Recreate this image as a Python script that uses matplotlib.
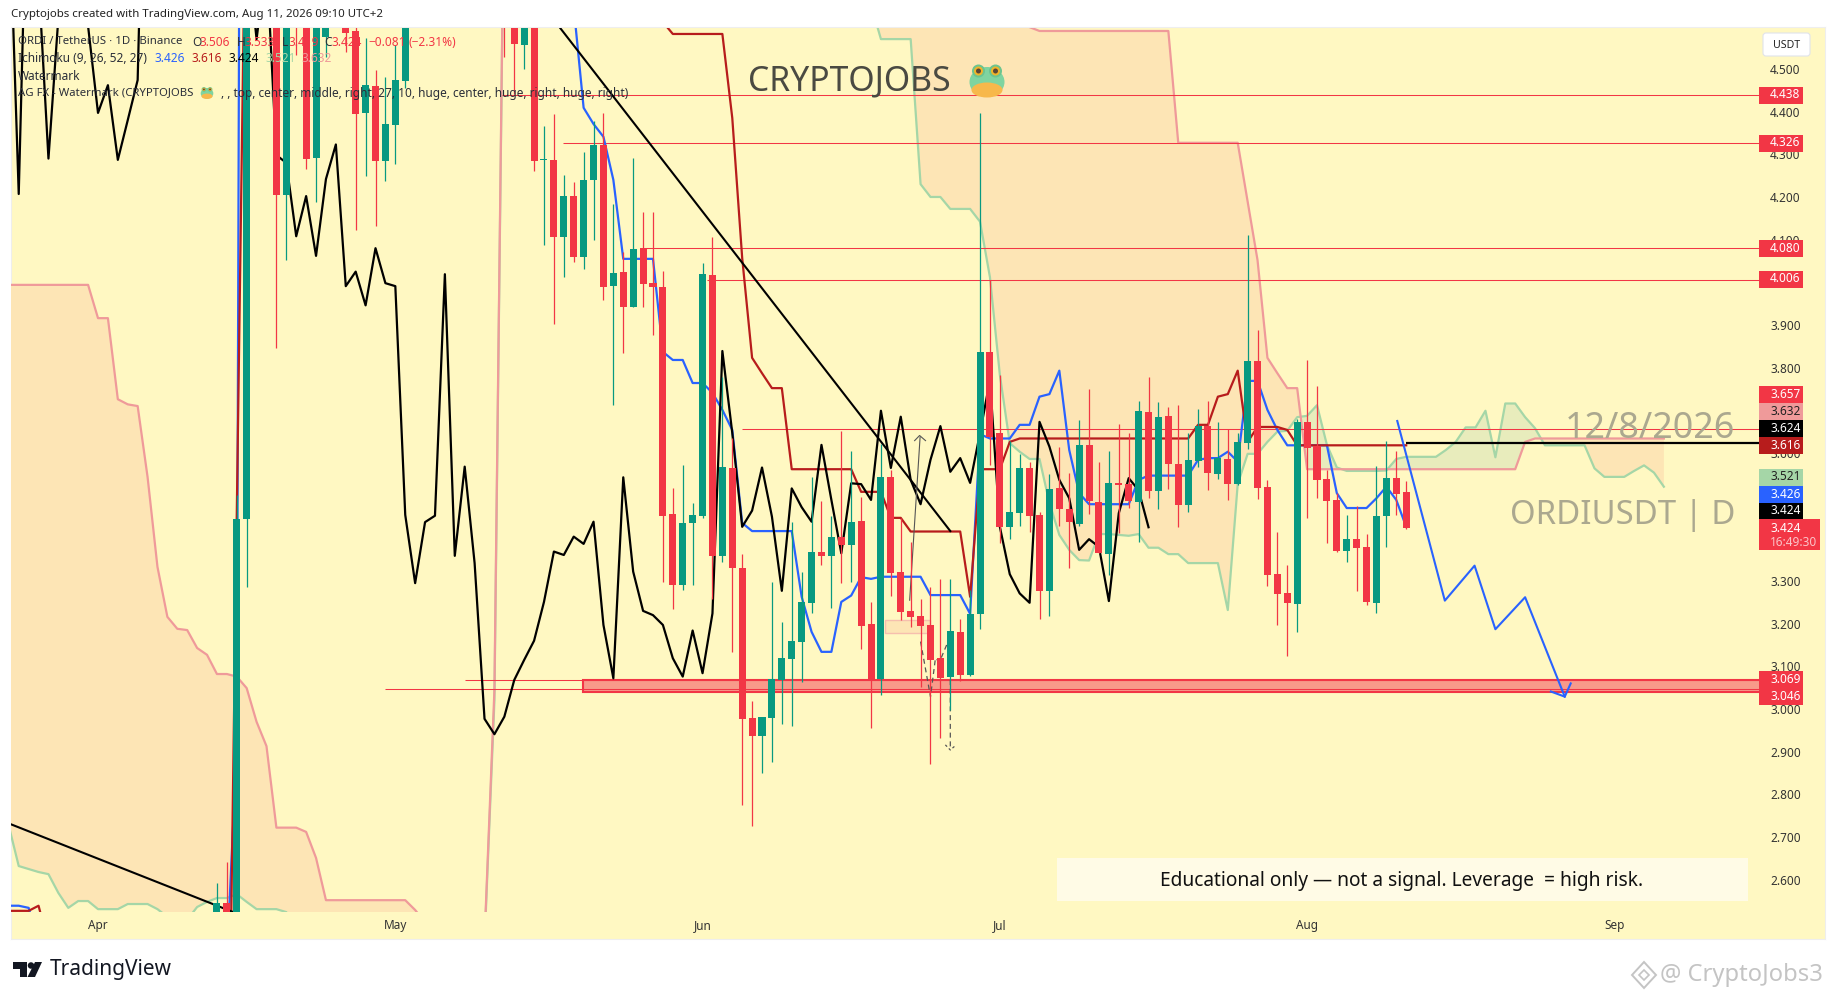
import matplotlib
matplotlib.use('Agg')
import matplotlib.pyplot as plt
from matplotlib.patches import Rectangle, Ellipse, FancyBboxPatch, Polygon
import numpy as np

plt.rcParams['font.family'] = ['Noto Sans', 'DejaVu Sans']

W, H = 1835, 1000
BG = '#FFF8C2'
UP = '#089981'
DOWN = '#F23645'

# day number counted from 1 April
month_days = [0, 30, 61, 91, 122, 153]
month_labels = ['Apr', 'May', 'Jun', 'Jul', 'Aug', 'Sep']
price_ticks = [2.6, 2.7, 2.8, 2.9, 3.0, 3.1, 3.2, 3.3, 3.4, 3.5, 3.6, 3.7, 3.8, 3.9, 4.0, 4.1, 4.2, 4.3, 4.4, 4.5]

candle_days = [12, 13, 14, 15, 18, 19, 20, 21, 22, 23, 25, 26, 27, 28, 29, 30, 31,
               41, 42, 43, 44, 45, 46, 47, 48, 49, 50, 51, 52, 53, 54, 55, 56, 57, 58, 59,
               60, 61, 62, 63, 64, 65, 66, 67, 68, 69, 70, 71, 72, 73, 74, 75, 76, 77, 78, 79,
               80, 81, 82, 83, 84, 85, 86, 87, 88, 89, 90, 91, 92, 93, 94, 95, 96, 97, 98, 99,
               100, 101, 102, 103, 104, 105, 106, 107, 108, 109, 110, 111, 112, 113, 114, 115,
               116, 117, 118, 119, 120, 121, 122, 123, 124, 125, 126, 127, 128, 129, 130, 131, 132]
opens = [2.45, 2.546, 2.40, 3.445, 4.75, 4.205, 4.75, 4.72, 4.292, 4.576, 4.68, 4.589, 4.397, 4.460, 4.285, 4.369, 4.472,
         4.75, 4.70, 4.556, 4.70, 4.286, 4.287, 4.107, 4.202, 4.060, 4.240, 4.322, 3.991, 4.024, 3.943, 4.080, 3.999, 3.989, 3.457, 3.291,
         3.437, 3.452, 4.017, 3.359, 3.565, 3.330, 2.979, 2.937, 2.980, 3.069, 3.117, 3.158, 3.249, 3.368, 3.359, 3.403, 3.384, 3.441, 3.199, 3.070,
         3.544, 3.320, 3.230, 3.218, 3.197, 3.120, 3.075, 3.180, 3.080, 3.223, 3.837, 3.646, 3.427, 3.459, 3.565, 3.455, 3.277, 3.518, 3.469, 3.434,
         3.619, 3.485, 3.363, 3.529, 3.527, 3.485, 3.696, 3.511, 3.687, 3.574, 3.478, 3.581, 3.663, 3.551, 3.586, 3.527,
         3.623, 3.816, 3.520, 3.316, 3.272, 3.246, 3.673, 3.616, 3.539, 3.490, 3.370, 3.398, 3.380, 3.248, 3.452, 3.541, 3.509]
highs = [2.592, 2.642, 3.502, 4.8, 4.8, 4.8, 4.8, 4.8, 4.75, 4.75, 4.75, 4.70, 4.573, 4.498, 4.481, 4.556, 4.8,
         4.8, 4.8, 4.8, 4.8, 4.366, 4.394, 4.251, 4.236, 4.306, 4.379, 4.396, 4.184, 4.072, 4.291, 4.165, 4.165, 4.026, 3.518, 3.572,
         3.483, 4.045, 4.106, 3.779, 3.635, 3.363, 3.019, 2.981, 3.297, 3.204, 3.438, 3.320, 3.544, 3.487, 3.452, 3.652, 3.605, 3.496, 3.251, 3.62,
         3.560, 3.447, 3.392, 3.258, 3.285, 3.305, 3.305, 3.211, 3.279, 4.397, 4.005, 3.783, 3.628, 3.597, 3.579, 3.462, 3.551, 3.614, 3.553, 3.677,
         3.750, 3.579, 3.605, 3.668, 3.647, 3.722, 3.778, 3.719, 3.708, 3.712, 3.647, 3.703, 3.722, 3.673, 3.656, 3.647,
         4.111, 3.888, 3.537, 3.415, 3.337, 3.680, 3.818, 3.757, 3.560, 3.506, 3.455, 3.476, 3.410, 3.569, 3.628, 3.605, 3.534]
lows = [2.40, 2.40, 2.30, 3.287, 3.847, 4.052, 4.533, 4.266, 4.189, 4.528, 4.540, 4.123, 4.250, 4.133, 4.238, 4.277, 4.455,
        4.529, 4.441, 4.500, 4.262, 4.087, 3.902, 4.013, 4.048, 4.032, 4.099, 3.959, 3.712, 3.835, 3.943, 3.943, 3.877, 3.297, 3.234, 3.279,
        3.291, 3.448, 3.258, 3.345, 3.134, 2.775, 2.726, 2.851, 2.876, 2.965, 2.961, 3.064, 3.226, 3.337, 3.237, 3.296, 3.298, 3.141, 2.956, 3.033,
        3.265, 3.209, 3.192, 3.052, 2.871, 2.933, 2.998, 3.066, 3.077, 3.187, 3.572, 3.390, 3.398, 3.430, 3.416, 3.211, 3.219, 3.430, 3.330, 3.430,
        3.458, 3.366, 3.314, 3.413, 3.472, 3.391, 3.495, 3.469, 3.516, 3.427, 3.462, 3.568, 3.513, 3.539, 3.490, 3.525,
        3.609, 3.492, 3.288, 3.197, 3.124, 3.180, 3.448, 3.495, 3.389, 3.368, 3.345, 3.277, 3.244, 3.225, 3.380, 3.455, 3.422]
closes = [2.546, 2.45, 3.445, 4.75, 4.205, 4.75, 4.68, 4.289, 4.70, 4.70, 4.584, 4.395, 4.462, 4.285, 4.370, 4.474, 4.75,
          4.65, 4.558, 4.70, 4.285, 4.287, 4.107, 4.202, 4.060, 4.240, 4.322, 3.990, 4.023, 3.943, 4.078, 3.996, 3.990, 3.452, 3.291, 3.436,
          3.455, 4.019, 3.359, 3.567, 3.331, 2.977, 2.937, 2.981, 3.070, 3.120, 3.159, 3.251, 3.368, 3.359, 3.403, 3.384, 3.438, 3.195, 3.070, 3.544,
          3.319, 3.227, 3.216, 3.195, 3.115, 3.072, 3.183, 3.080, 3.223, 3.837, 3.637, 3.427, 3.462, 3.565, 3.452, 3.277, 3.516, 3.469, 3.438, 3.619,
          3.487, 3.366, 3.530, 3.525, 3.487, 3.698, 3.511, 3.684, 3.574, 3.478, 3.584, 3.663, 3.553, 3.588, 3.527, 3.626,
          3.816, 3.518, 3.314, 3.270, 3.248, 3.673, 3.612, 3.537, 3.487, 3.370, 3.398, 3.377, 3.251, 3.452, 3.541, 3.504, 3.424]

# ichimoku, all start on day -9
span_a = ([2.726, 2.632, 2.625, 2.618, 2.613, 2.569, 2.534, 2.550, 2.550,
           2.531, 2.531, 2.531, 2.543, 2.543, 2.543, 2.531, 2.513, 2.506, 2.506,
           2.536, 2.548, 2.557, 2.557, 2.566, 2.548, 2.531, 2.531, 2.531, 2.524]
          + [2.45] * 19 + [2.45, 3.02, 5.0] + [4.9] * 36 + [4.65, 4.57, 4.57, 4.57, 4.57]
          + [4.230, 4.200, 4.200, 4.172, 4.172, 4.172, 4.142, 4.012, 3.783,
             3.623, 3.603, 3.586, 3.586, 3.483, 3.408, 3.373, 3.349, 3.348,
             3.410, 3.410, 3.408, 3.406, 3.410, 3.378, 3.378, 3.363, 3.363, 3.342,
             3.342, 3.342, 3.342, 3.232, 3.527, 3.598, 3.598, 3.626, 3.650, 3.652,
             3.684, 3.687, 3.712, 3.619, 3.566, 3.558, 3.558, 3.558, 3.558, 3.559,
             3.586, 3.591, 3.591, 3.591, 3.591, 3.607, 3.626, 3.660, 3.660, 3.699,
             3.590, 3.716, 3.716, 3.684, 3.658, 3.618, 3.618, 3.618, 3.618, 3.618,
             3.564, 3.544, 3.544, 3.544, 3.558, 3.571, 3.554, 3.521])
span_b = ([3.994] * 9
          + [3.916, 3.916, 3.726, 3.714, 3.710, 3.544, 3.333, 3.216, 3.188, 3.185,
             3.143, 3.127, 3.082, 3.082, 3.076, 3.049, 2.970, 2.913, 2.722, 2.722,
             2.722, 2.712, 2.651, 2.552]
          + [2.552] * 8 + [2.529, 2.50] + [2.45] * 5 + [2.459, 3.045, 5.013] + [4.7] * 52 + [4.598]
          + [4.589] * 14 + [4.327] * 7 + [4.189, 4.052, 3.823, 3.787, 3.752, 3.752]
          + [3.562] * 22 + [3.626] + [3.634] * 14)
base_line = ([2.527, 2.527, 2.527, 2.539, 2.45] + [1.8] * 17 + [1.76, 3.455, 5.12] + [4.9] * 41
             + [4.610] + [4.582] * 6 + [4.385, 4.057, 3.823, 3.787, 3.752, 3.752]
             + [3.562] * 7 + [3.509] * 3 + [3.448] * 2 + [3.416] * 6 + [3.263, 3.562, 3.562, 3.562, 3.626]
             + [3.634] * 18 + [3.666, 3.666, 3.732, 3.738, 3.793, 3.626, 3.661, 3.661, 3.661, 3.654]
             + [3.618] * 12)
conv_line = ([2.539, 2.539, 2.534, 2.45] + [2.0] * 18 + [2.409, 2.913, 10.2] + [4.9] * 32
             + [4.645, 4.409, 4.371, 4.341, 4.240, 4.055, 4.055, 4.055, 4.055]
             + [3.837, 3.818, 3.818, 3.764, 3.764, 3.741, 3.701, 3.654, 3.436] + [3.417] * 5
             + [3.263, 3.181, 3.134, 3.134, 3.251, 3.266, 3.309, 3.305, 3.310] + [3.310] * 4 + [3.267] * 4
             + [3.223, 3.644, 3.634, 3.634, 3.634, 3.666, 3.666, 3.732, 3.738, 3.793, 3.607, 3.506]
             + [3.480] * 5 + [3.537] + [3.547] * 5
             + [3.584, 3.588, 3.588, 3.603, 3.580, 3.769, 3.769, 3.701, 3.654] + [3.618] * 5
             + [3.506, 3.471, 3.471, 3.471, 3.494, 3.521, 3.490, 3.427])
lagging = ([4.92, 4.207, 5.11, 4.71, 4.290, 4.62, 4.7, 4.7, 4.6, 4.397, 4.462, 4.287, 4.380, 4.474, 5.4]
           + [4.9] * 9 + [4.79, 4.570, 4.755, 4.298, 4.280]
           + [4.108, 4.202, 4.062, 4.242, 4.323, 3.991, 4.025, 3.946, 4.080, 3.998,
              3.991, 3.455, 3.295, 3.438, 3.453, 4.019, 3.359, 3.568, 3.342, 2.977,
              2.941, 2.982, 3.068, 3.115, 3.160, 3.251, 3.369, 3.361, 3.404, 3.387,
              3.439, 3.197, 3.072, 3.543, 3.322, 3.230, 3.220, 3.197, 3.119, 3.076,
              3.184, 3.084, 3.224, 3.839, 3.647, 3.427, 3.465, 3.566, 3.451, 3.277,
              3.517, 3.473, 3.439, 3.619, 3.490, 3.365, 3.529, 3.527, 3.490, 3.699,
              3.565, 3.685, 3.537, 3.480, 3.584, 3.663, 3.556, 3.588, 3.530, 3.647,
              3.771, 3.427, 3.316, 3.271, 3.249, 3.673, 3.615, 3.537, 3.494, 3.373,
              3.398, 3.380, 3.253, 3.459, 3.541, 3.513, 3.426])

# drawings
level_prices = [4.438, 4.326, 4.080, 4.006, 3.657, 3.069, 3.046]
level_starts = [40.8, 46.9, 55.2, 61.4, 65.0, 37.0, 29.0]
trend1_days, trend1_prices = [-8.8, 13.65], [2.730, 2.524]
trend2_days, trend2_prices = [46.6, 86.0], [4.597, 3.417]
path_days = [131.1, 135.9, 138.9, 141.0, 144.0, 148.0]
path_prices = [3.675, 3.254, 3.336, 3.187, 3.262, 3.029]
path_head_days = [146.6, 148.0, 148.6]
path_head_prices = [3.041, 3.029, 3.060]
up_days, up_prices = [81.9, 82.95], [3.255, 3.637]
up_head_days, up_head_prices = [82.4, 82.9, 83.5], [3.629, 3.641, 3.629]
dash_days = [83, 84, 84.5, 84.9, 85.7, 86, 86]
dash_prices = [3.158, 3.029, 3.119, 3.110, 3.154, 3.076, 2.909]
dash_head_days, dash_head_prices = [85.5, 86, 86.6], [2.916, 2.904, 2.916]

# (text, centre y, box colour, text colour)
price_tags = [('4.438', 95, DOWN, 'white'), ('4.326', 143, DOWN, 'white'), ('4.080', 248, DOWN, 'white'),
              ('4.006', 279, DOWN, 'white'), ('3.657', 394.5, DOWN, 'white'), ('3.632', 411.5, '#EF9A9A', '#222222'),
              ('3.624', 428.5, '#000000', 'white'), ('3.616', 445.5, '#B71C1C', 'white'),
              ('3.521', 477, '#A5D6A7', '#222222'), ('3.426', 494, '#2962FF', 'white'), ('3.424', 511, '#000000', 'white'),
              ('3.069', 679.5, DOWN, 'white'), ('3.046', 696.5, DOWN, 'white')]


def px_rect(left, right, top, bottom):
    return [left / W, 1 - bottom / H, (right - left) / W, (bottom - top) / H]


def frog(ov, cx, cy, s):
    ov.add_patch(Ellipse((cx, cy + 1 * s), 35 * s, 30 * s, fc='#7FD4A0', ec='none', zorder=5))
    ov.add_patch(Ellipse((cx, cy + 9 * s), 31 * s, 15 * s, fc='#F7B84B', ec='none', zorder=6))
    for dx in [-8.5, 8.5]:
        ov.add_patch(Ellipse((cx + dx * s, cy - 10 * s), 13 * s, 13 * s, fc='#6CC48F', ec='none', zorder=6))
        ov.add_patch(Ellipse((cx + dx * s, cy - 10 * s), 9 * s, 9 * s, fc='#F0B429', ec='none', zorder=7))
        ov.add_patch(Ellipse((cx + dx * s, cy - 10 * s), 5 * s, 5 * s, fc='#5A4636', ec='none', zorder=8))


fig = plt.figure(figsize=(W / 100, H / 100), dpi=100, facecolor='white')

panel = fig.add_axes(px_rect(10.7, 1825, 27, 939), zorder=0)
panel.set_facecolor(BG)
panel.set_xticks([])
panel.set_yticks([])
for sp in panel.spines.values():
    sp.set_color('#EEEEEE')

ax = fig.add_axes(px_rect(10.7, 1759, 28, 911.7), zorder=1)
ax.patch.set_alpha(0)
ax.set_xlim(-8.81, 167.6)
ax.set_ylim(2.525, 4.596)
for sp in ax.spines.values():
    sp.set_visible(False)

# cloud
cloud_x = np.arange(-9, 159)
a = np.array(span_a)
b = np.array(span_b)
ax.fill_between(cloud_x, a, b, where=b >= a, interpolate=True, color='#FDE5B5', lw=0, zorder=1)
ax.fill_between(cloud_x, a, b, where=a >= b, interpolate=True, color='#E8ECBC', lw=0, zorder=1)
ax.plot(cloud_x, a, color='#A5D6A7', lw=1.6, zorder=2)
ax.plot(cloud_x, b, color='#EF9A9A', lw=1.6, zorder=2)

# support band and levels
ax.add_patch(Rectangle((48.9, 3.0405), 130, 0.0285, fc='#F89A8A', ec=DOWN, lw=1.5, zorder=2.5))
ax.hlines(level_prices, level_starts, 170, color=DOWN, lw=0.75, zorder=2.6)
ax.hlines(3.624, 132, 170, color='black', lw=1.6, zorder=3)
ax.add_patch(Rectangle((79.4, 3.178), 4.6, 0.031, fc='#FDE5B5', ec='#F6BFAE', lw=1, zorder=2.4))

# ichimoku lines
ax.plot(np.arange(-9, 133), conv_line, color='#2962FF', lw=1.6, zorder=3)
ax.plot(np.arange(-9, 133), base_line, color='#B71C1C', lw=1.6, zorder=3)
ax.plot(np.arange(-9, 107), lagging, color='black', lw=1.6, zorder=3)

# drawings
ax.plot(trend1_days, trend1_prices, color='black', lw=1.5, zorder=3.1)
ax.plot(trend2_days, trend2_prices, color='black', lw=1.5, zorder=3.1)
ax.plot(path_days, path_prices, color='#2962FF', lw=1.5, zorder=3.1)
ax.plot(path_head_days, path_head_prices, color='#2962FF', lw=1.5, zorder=3.1)
ax.plot(up_days, up_prices, color='#555555', lw=0.8, zorder=3.1)
ax.plot(up_head_days, up_head_prices, color='#555555', lw=0.8, zorder=3.1)
ax.plot(dash_days, dash_prices, color='#555555', lw=0.9, ls=(0, (4, 3)), zorder=3.1)
ax.plot(dash_head_days, dash_head_prices, color='#555555', lw=0.9, ls=(0, (2, 2)), zorder=3.1)

# candles
o = np.array(opens)
c = np.array(closes)
colors = np.where(c >= o, UP, DOWN)
ax.vlines(candle_days, lows, highs, colors=colors, lw=0.9, zorder=4)
ax.bar(candle_days, np.maximum(np.abs(c - o), 0.004), bottom=np.minimum(o, c), width=0.71,
       color=colors, lw=0, zorder=4.1)

ax.yaxis.tick_right()
ax.set_yticks(price_ticks, [f'{p:.3f}' for p in price_ticks], fontsize=8.5, color='#333333', va='center_baseline')
ax.set_xticks(month_days, month_labels, fontsize=8.5, color='#333333')
ax.tick_params(axis='y', length=0, pad=8)
ax.tick_params(axis='x', length=0, pad=5)

# overlay in picture pixels for texts and tags
ov = fig.add_axes([0, 0, 1, 1], zorder=2)
ov.set_xlim(0, W)
ov.set_ylim(H, 0)
ov.axis('off')

ov.text(11, 15, 'Cryptojobs created with TradingView.com, Aug 11, 2026 09:10 UTC+2', fontsize=8.25,
        color='#222222', va='center')

LEG = '#2A2E39'
LEG_SIZE = 8.55
ov.text(18, 42, 'ORDI / TetherUS · 1D · Binance', fontsize=8.2, color=LEG, va='center')
for x, t, col in [(192, 'O', LEG), (199.5, '3.506', DOWN), (236.6, 'H', LEG), (244, '3.533', DOWN), (282, 'L', LEG),
                  (288, '3.419', DOWN), (324.5, 'C', LEG), (331, '3.424', DOWN), (368, '−0.081', DOWN),
                  (408, '(−2.31%)', DOWN)]:
    ov.text(x, 42, t, fontsize=LEG_SIZE, color=col, va='center')
ov.text(18, 59, 'Ichimoku (9, 26, 52, 27)', fontsize=LEG_SIZE, color=LEG, va='center')
for x, t, col in [(154, '3.426', '#2962FF'), (191, '3.616', '#B71C1C'), (228, '3.424', 'black'),
                  (265, '3.521', '#A5D6A7'), (301, '3.632', '#EF9A9A')]:
    ov.text(x, 59, t, fontsize=LEG_SIZE, color=col, va='center')
ov.text(18, 76, 'Watermark', fontsize=LEG_SIZE, color=LEG, va='center')
ov.text(18, 93, 'AG FX - Watermark (CRYPTOJOBS', fontsize=8.15, color=LEG, va='center')
frog(ov, 207, 93, 0.36)
ov.text(221, 93, ', , top, center, middle, right, 27, 10, huge, center, huge, right, huge, right)', fontsize=LEG_SIZE,
        color=LEG, va='center')

# watermarks
ov.text(748, 81, 'CRYPTOJOBS', fontsize=24.3, color='#4A4A42', va='center')
frog(ov, 987, 81, 1)
ov.text(1735, 429, '12/8/2026', fontsize=25.8, color='#ABA88F', va='center', ha='right')
ov.text(1735, 515, 'ORDIUSDT | D', fontsize=23.7, color='#ABA88F', va='center', ha='right')

# note box
ov.add_patch(Rectangle((1057, 858), 691, 43, fc='#FFFBE6', ec='none', zorder=1))
ov.text(1402, 881, 'Educational only — not a signal. Leverage  = high risk.', fontsize=13.8, color='#111111',
        ha='center', va='center', zorder=2)

# price tags
for text, y, box, col in price_tags:
    ov.add_patch(Rectangle((1759, y - 8.5), 44, 17, fc=box, ec='none', zorder=9))
    ov.text(1770, y, text, fontsize=8.5, color=col, va='center', zorder=10)
ov.add_patch(Rectangle((1759, 519), 61, 31, fc=DOWN, ec='none', zorder=9))
ov.text(1770, 528, '3.424', fontsize=8.5, color='white', va='center', zorder=10)
ov.text(1770, 542, '16:49:30', fontsize=8.5, color='#FBC4C8', va='center', zorder=10)

# currency button
ov.add_patch(FancyBboxPatch((1763, 33), 47, 23, boxstyle='round,pad=0,rounding_size=3', fc='white',
                            ec='#E0E3EB', lw=0.8, zorder=9))
ov.text(1786.5, 45, 'USDT', fontsize=7.6, color='#222222', ha='center', va='center', zorder=10)

# footer logo
ov.add_patch(Polygon([(13, 962), (27, 962), (27, 977), (20, 977), (20, 969), (13, 969)], fc='#131722', ec='none'))
ov.add_patch(Ellipse((31, 965.5), 6.5, 6.5, fc='#131722', ec='none'))
ov.add_patch(Polygon([(35, 962), (42, 962), (35, 977), (27.5, 977)], fc='#131722', ec='none'))
ov.text(50, 969.5, 'TradingView', fontsize=15, fontweight='bold', color='#131722', va='center')

# footer watermark
ov.add_patch(Polygon([(1644, 962), (1656, 975), (1644, 988), (1632, 975)], fc='none', ec='#C4C4C4', lw=1.4))
ov.add_patch(Polygon([(1644, 970), (1649, 975), (1644, 980), (1639, 975)], fc='none', ec='#C4C4C4', lw=1.2))
ov.text(1660, 975, '@ CryptoJobs3', fontsize=17.1, color='#C4C4C4', va='center')

fig.savefig('out.png', dpi=100)
